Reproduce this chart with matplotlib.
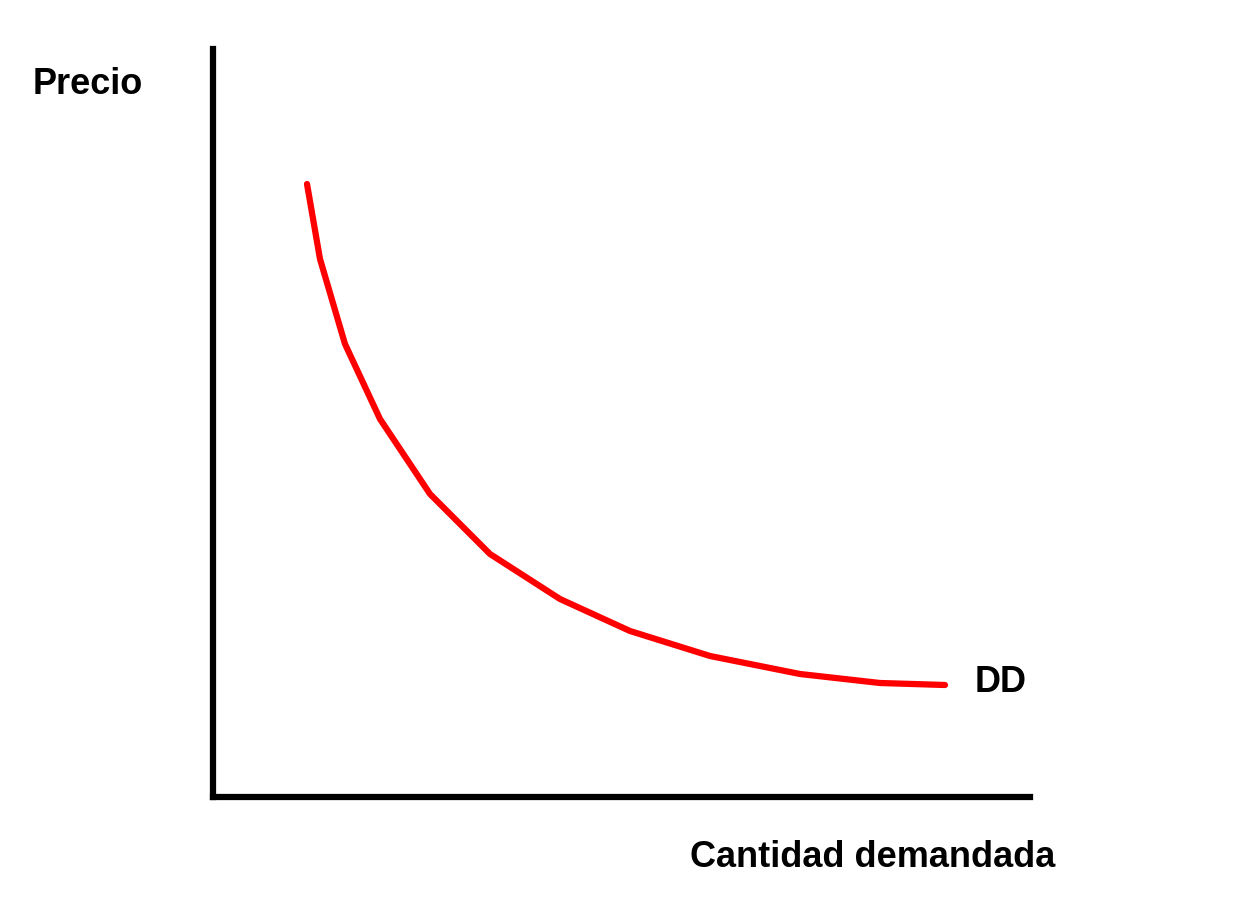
"""Demand curve sketch: Precio vs Cantidad demandada."""

import matplotlib

matplotlib.use("Agg")
import matplotlib.pyplot as plt

# curve points (axis units = pixels from origin)
quantity = [94, 107, 132, 167, 217, 277, 347, 417, 497, 587, 667, 732]
price = [613, 538, 453, 378, 303, 243, 198, 166, 141, 123, 114, 112]

W, H = 1248, 912
fig = plt.figure(figsize=(W / 100, H / 100), dpi=100)
ax = fig.add_axes([213 / W, (H - 798) / H, (1030 - 213) / W, (798 - 50) / H])
ax.set_xlim(0, 817)
ax.set_ylim(0, 748)

ax.plot(quantity, price, color="#ff0000", linewidth=4.5, solid_capstyle="round")

for side in ("top", "right"):
    ax.spines[side].set_visible(False)
for side in ("left", "bottom"):
    ax.spines[side].set_linewidth(4.5)
    ax.spines[side].set_color("black")
ax.set_xticks([])
ax.set_yticks([])

font = dict(family="Liberation Sans", fontweight="bold", fontsize=26, color="black")
fig.text(33 / W, 1 - 85 / H, "Precio", va="center", ha="left", **font)
fig.text(975 / W, 1 - 683 / H, "DD", va="center", ha="left", **font)
fig.text(690 / W, 1 - 858 / H, "Cantidad demandada", va="center", ha="left", **font)

fig.savefig("out.png", dpi=100, facecolor="white")
